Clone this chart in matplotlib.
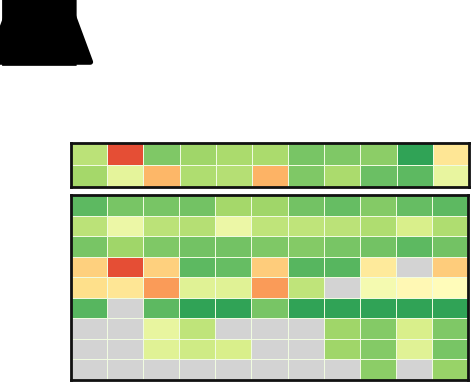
import numpy as np
import matplotlib
matplotlib.use('Agg')
import matplotlib.pyplot as plt
import matplotlib.patheffects as pe

# scores on RdYlGn scale (0-1), nan = no data
top_rows = [
    [0.66, 0.15, 0.76, 0.71, 0.69, 0.69, 0.77, 0.76, 0.74, 0.87, 0.42],
    [0.70, 0.57, 0.32, 0.68, 0.67, 0.31, 0.76, 0.69, 0.79, 0.81, 0.56],
]
nan = np.nan
bottom_rows = [
    [0.81, 0.77, 0.77, 0.78, 0.70, 0.71, 0.78, 0.80, 0.75, 0.80, 0.81],
    [0.66, 0.55, 0.66, 0.67, 0.55, 0.65, 0.65, 0.66, 0.68, 0.60, 0.68],
    [0.77, 0.71, 0.76, 0.78, 0.78, 0.76, 0.75, 0.77, 0.78, 0.81, 0.78],
    [0.37, 0.15, 0.37, 0.81, 0.80, 0.36, 0.82, 0.82, 0.43, nan, 0.36],
    [0.40, 0.42, 0.27, 0.58, 0.58, 0.27, 0.65, nan, 0.53, 0.48, 0.49],
    [0.82, nan, 0.81, 0.87, 0.87, 0.77, 0.87, 0.87, 0.87, 0.87, 0.87],
    [nan, nan, 0.56, 0.65, nan, nan, nan, 0.71, 0.75, 0.60, 0.76],
    [nan, nan, 0.58, 0.62, 0.60, nan, nan, 0.71, 0.75, 0.58, 0.77],
    [nan, nan, nan, nan, nan, nan, nan, nan, 0.74, nan, 0.72],
]

cmap = plt.get_cmap('RdYlGn').copy()
cmap.set_bad('#d3d3d3')

fig = plt.figure(figsize=(4.74, 3.86), dpi=100)

def draw(ax, rows):
    data = np.ma.masked_invalid(np.array(rows))
    ax.pcolormesh(data, cmap=cmap, vmin=0, vmax=1, edgecolors='#f0fbe0', linewidth=0.6)
    ax.set_xlim(0, data.shape[1])
    ax.set_ylim(data.shape[0], 0)
    ax.set_xticks([])
    ax.set_yticks([])
    for s in ax.spines.values():
        s.set_linewidth(2)
        s.set_color('#111111')

ax1 = fig.add_axes([71/474, 1-187/386, 398/474, 44/386])
draw(ax1, top_rows)
ax2 = fig.add_axes([71/474, 1-380/386, 397/474, 185/386])
draw(ax2, bottom_rows)

# panel label (smeared in the original)
fig.text(3/474, 1-41/386, "\u2588", fontsize=68, va='baseline', ha='left', color='black')
fig.text(91/474, 1-62/386, "A", fontsize=95, fontweight='bold', va='baseline', ha='right',
         color='black', path_effects=[pe.withStroke(linewidth=4, foreground='black')])

plt.savefig('out.png', dpi=100)
